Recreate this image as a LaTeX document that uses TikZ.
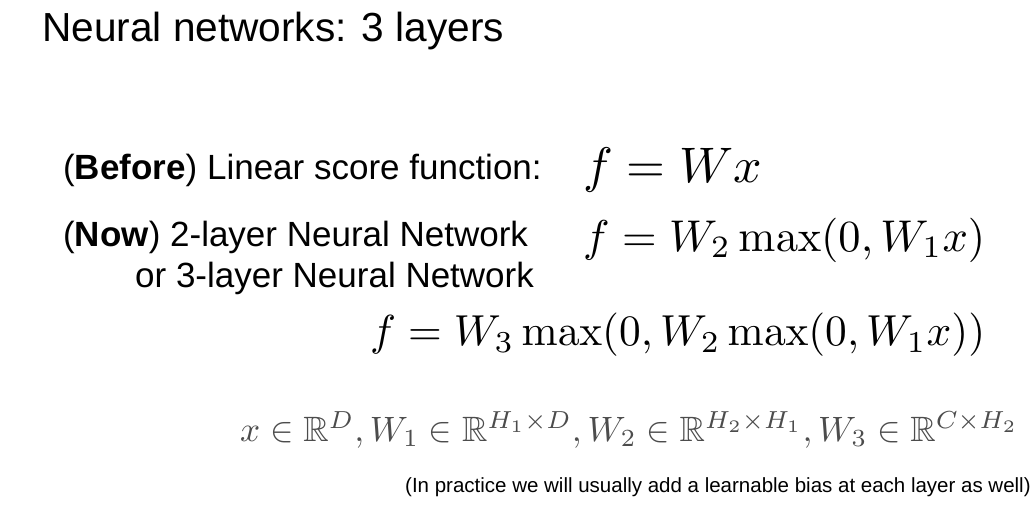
\documentclass[tikz,border=0pt]{standalone}
\usepackage{amsmath,amssymb}
\usepackage[no-math]{fontspec}
\setmainfont{Liberation Sans}
\newcommand{\fitw}[2]{\resizebox{#1pt}{!}{#2}}
\begin{document}
\begin{tikzpicture}[x=1pt,y=-1pt,
  txt/.style={anchor=west,inner sep=0pt,font=\fontsize{35}{40}\selectfont},
  mth/.style={anchor=west,inner sep=0pt}]
\useasboundingbox (0,0) rectangle (1033,513);
\node[anchor=west,inner sep=0pt,font=\fontsize{40.6}{45}\selectfont] (title) at (42,31) {Neural networks: 3 layers};
\node[txt] (before) at (63,170) {(\textbf{Before}) Linear score function:};
\node[mth] (f1) at (583,170) {\fitw{179}{$f = Wx$}};
\node[txt] (now) at (63,237) {(\textbf{Now}) 2-layer Neural Network};
\node[txt] (or) at (135,278) {or 3-layer Neural Network};
\node[mth] (f2) at (583,240) {\fitw{402}{$f = W_2\max(0, W_1x)$}};
\node[mth] (f3) at (370,335) {\fitw{615}{$f = W_3\max(0, W_2\max(0, W_1x))$}};
\node[mth,text=black!70] (dims) at (240,430) {\fitw{778}{$x\in\mathbb{R}^D, W_1\in\mathbb{R}^{H_1\times D}, W_2\in\mathbb{R}^{H_2\times H_1}, W_3\in\mathbb{R}^{C\times H_2}$}};
\node[anchor=west,inner sep=0pt,font=\fontsize{20.5}{24}\selectfont] (note) at (405,487) {(In practice we will usually add a learnable bias at each layer as well)};
\end{tikzpicture}
\end{document}
